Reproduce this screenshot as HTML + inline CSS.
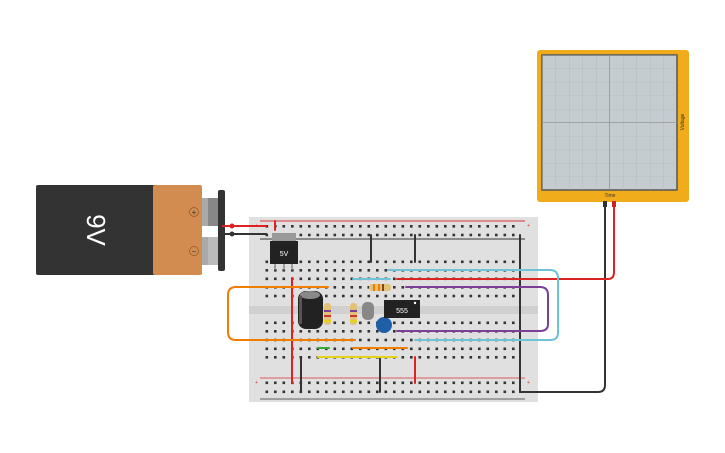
<!DOCTYPE html><html><head><style>body{margin:0;background:#fff}svg{display:block}</style></head><body>
<svg width="725" height="453" xmlns="http://www.w3.org/2000/svg" font-family="Liberation Sans, sans-serif">
<defs>
<pattern id="h" x="262.5" y="0" width="8.5" height="453" patternUnits="userSpaceOnUse"><rect x="3" width="2.6" height="453" fill="#333"/></pattern>
<pattern id="g" x="542" y="55" width="13.5" height="13.5" patternUnits="userSpaceOnUse"><path d="M0 0H13.5M0 0V13.5" stroke="#aab2b6" stroke-width="0.6" fill="none"/></pattern>
</defs>
<!-- battery -->
<rect x="36" y="185" width="120" height="90" rx="2" fill="#333"/>
<rect x="153" y="185" width="49" height="90" rx="2" fill="#d38c4f"/>
<text transform="translate(96,230) rotate(90)" text-anchor="middle" dy="9" fill="#fff" font-size="26">9V</text>
<circle cx="194" cy="212" r="4.5" fill="none" stroke="#8a5a30" stroke-width="0.7"/><text x="194" y="215" font-size="8" text-anchor="middle" fill="#333">+</text>
<circle cx="194" cy="251" r="4.5" fill="none" stroke="#8a5a30" stroke-width="0.7"/><text x="194" y="254" font-size="8" text-anchor="middle" fill="#333">−</text>
<rect x="202" y="198" width="16" height="28" fill="#aaa"/><rect x="208" y="198" width="10" height="28" fill="#888"/>
<rect x="202" y="237" width="16" height="28" fill="#aaa"/><rect x="208" y="237" width="10" height="28" fill="#bbb"/>
<rect x="218" y="190" width="7" height="81" rx="2" fill="#333"/>
<!-- breadboard -->
<rect x="249" y="217" width="289" height="185" fill="#e0e0e0"/>
<rect x="249" y="306" width="289" height="8" fill="#d0d0d0"/>
<line x1="260" y1="221" x2="525" y2="221" stroke="#d33" stroke-width="1"/>
<line x1="260" y1="239" x2="525" y2="239" stroke="#333" stroke-width="1"/>
<line x1="260" y1="378" x2="525" y2="378" stroke="#d88" stroke-width="1.5"/>
<line x1="260" y1="399" x2="525" y2="399" stroke="#888" stroke-width="1.5"/>
<g fill="url(#h)">
<rect x="262" y="225" width="256" height="2.6"/><rect x="262" y="233.7" width="256" height="2.6"/>
<rect x="262" y="260.5" width="256" height="2.6"/><rect x="262" y="269" width="256" height="2.6"/><rect x="262" y="277.5" width="256" height="2.6"/><rect x="262" y="286" width="256" height="2.6"/><rect x="262" y="294.7" width="256" height="2.6"/>
<rect x="262" y="321.5" width="256" height="2.6"/><rect x="262" y="330" width="256" height="2.6"/><rect x="262" y="338.7" width="256" height="2.6"/><rect x="262" y="347.5" width="256" height="2.6"/><rect x="262" y="356" width="256" height="2.6"/>
<rect x="262" y="381.5" width="256" height="2.6"/><rect x="262" y="390.5" width="256" height="2.6"/>
</g>
<g font-size="5" fill="#c33"><text x="255" y="227">+</text><text x="527" y="227">+</text><text x="255" y="384">+</text><text x="527" y="384">+</text></g>
<!-- battery wires -->
<line x1="222" y1="226" x2="267" y2="226" stroke="#d22" stroke-width="2"/><circle cx="232" cy="226" r="2.5" fill="#d22"/>
<line x1="222" y1="234" x2="267" y2="234" stroke="#333" stroke-width="2"/><circle cx="232" cy="234" r="2.5" fill="#333"/>
<!-- wires -->
<g fill="none" stroke-width="2" stroke-linecap="round">
<path d="M275 221V230" stroke="#d22"/>
<path d="M292 278V383" stroke="#d22"/>
<path d="M371 235V262M415 235V262M301 357V392M380 357V392" stroke="#333"/>
<path d="M520 235V392H598Q605 392 605 385V205" stroke="#333"/>
<path d="M397 279H608Q614 279 614 272V205" stroke="#d22"/>
<path d="M388 270H550Q558 270 558 278V333Q558 340 550 340H415" stroke="#6cc4d4"/>
<path d="M353 279H390" stroke="#6cc4d4"/>
<path d="M406 287H540Q548 287 548 295V324Q548 331 540 331H397" stroke="#7b3f98"/>
<path d="M328 287H236Q228 287 228 295V332Q228 340 236 340H355" stroke="#f07c00"/>
<path d="M353 348H407" stroke="#f07c00"/>
<path d="M318 348H329" stroke="#3a3"/>
<path d="M318 357H397" stroke="#e6d21a"/>
<path d="M415 357V383" stroke="#d22"/>
</g>
<!-- regulator -->
<rect x="272" y="233" width="24" height="9" fill="#999"/>
<rect x="270" y="241" width="28" height="23" fill="#222"/>
<text x="284" y="256" font-size="7" fill="#fff" text-anchor="middle">5V</text>
<path d="M275 264V270M284 264V270M292 264V270" stroke="#888" stroke-width="1.5"/>
<!-- electrolytic cap -->
<rect x="298" y="291" width="25" height="38" rx="8" fill="#222"/>
<ellipse cx="310" cy="295" rx="10" ry="4" fill="#888"/>
<rect x="299" y="296" width="3" height="28" fill="#555"/>
<!-- resistors -->
<rect x="324" y="303" width="7" height="22" rx="3" fill="#e3c278"/><rect x="324" y="310" width="7" height="2" fill="#7b3f98"/><rect x="324" y="315" width="7" height="2" fill="#c33"/><rect x="324" y="320" width="7" height="2" fill="#e6d21a"/>
<rect x="350" y="303" width="7" height="22" rx="3" fill="#e3c278"/><rect x="350" y="310" width="7" height="2" fill="#7b3f98"/><rect x="350" y="315" width="7" height="2" fill="#c33"/><rect x="350" y="320" width="7" height="2" fill="#e6d21a"/>
<rect x="369" y="284" width="22" height="7" rx="3" fill="#e3c278"/><rect x="373" y="284" width="2" height="7" fill="#f07c00"/><rect x="378" y="284" width="2" height="7" fill="#f07c00"/><rect x="382" y="284" width="2" height="7" fill="#8b4513"/>
<!-- gray component -->
<rect x="362" y="302" width="12" height="18" rx="5" fill="#888"/>
<!-- ceramic cap -->
<circle cx="384" cy="325" r="8" fill="#1f5fa8"/>
<!-- 555 -->
<rect x="384" y="300" width="36" height="18" fill="#222"/>
<text x="402" y="313" font-size="7" fill="#fff" text-anchor="middle">555</text>
<circle cx="415" cy="303" r="1.2" fill="#fff"/>
<!-- oscilloscope -->
<rect x="537" y="50" width="152" height="152" rx="3" fill="#f0ac1a"/>
<rect x="542" y="55" width="135" height="135" fill="#c5ccd0" stroke="#555" stroke-width="1.5"/>
<rect x="542" y="55" width="135" height="135" fill="url(#g)"/>
<path d="M609.5 55V190M542 122.5H677" stroke="#8f989c" stroke-width="0.8"/>
<text x="610" y="197" font-size="5" text-anchor="middle" fill="#333">Time</text>
<text transform="translate(684,122) rotate(-90)" font-size="5" text-anchor="middle" fill="#333">Voltage</text>
<rect x="603" y="201" width="4" height="6" fill="#333"/><rect x="612" y="201" width="4" height="6" fill="#c22"/>
</svg>
</body></html>
